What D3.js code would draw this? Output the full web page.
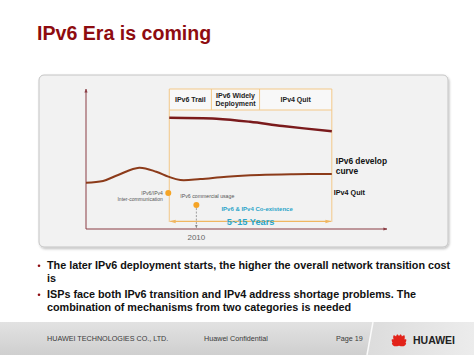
<!DOCTYPE html>
<html><head><meta charset="utf-8">
<script src="https://cdn.jsdelivr.net/npm/d3@7/dist/d3.min.js"></script>
<style>
html,body{margin:0;padding:0;background:#fff;}
svg{display:block;font-family:"Liberation Sans",Arial,sans-serif;}
</style></head>
<body>
<script>
// ---- data ----
const title = "IPv6 Era is coming";
const costYears  = [2007.3, 2012.0, 2015.35, 2018.6, 2023.5];
const costValues = [79.5, 78.8, 76.6, 73.6, 69.8];
const devYears   = [1999.0, 2000.7, 2002.2, 2004.3, 2006.0, 2007.2, 2008.4, 2010.4, 2013.0, 2016.3, 2019.7, 2023.5];
const devValues  = [33.1, 34.3, 38.6, 43.8, 40.9, 37.4, 35.0, 35.7, 37.4, 38.6, 39.1, 39.3];
const phaseNames = [["IPv6 Trail"], ["IPv6 Widely", "Deployment"], ["IPv4 Quit"]];
const phaseBounds = [2007.3, 2011.5, 2016.3, 2023.5];
const milestoneYears  = [2007.2, 2010.0];
const milestoneValues = [25.7, 17.1];
const milestoneLabels = [["IPv6/IPv4", "Inter-communication"], ["IPv6 commercial usage"]];
const tickYears  = [2010];
const tickLabels = ["2010"];
const curveLabels = [["IPv6 develop", "curve"], ["IPv4 Quit"]];
const coexistLabel = "IPv6 & IPv4 Co-existence";
const spanLabel = "5~15 Years";
const bullets = [
  ["The later IPv6 deployment starts, the higher the overall network transition cost", "is"],
  ["ISPs face both IPv6 transition and IPv4 address shortage problems.  The", "combination of mechanisms from two categories is needed"]
];
const footerTexts = ["HUAWEI TECHNOLOGIES CO., LTD.", "Huawei Confidential", "Page 19"];
const brand = "HUAWEI";

// ---- layout ----
const W = 474, H = 355;
const svg = d3.select("body").append("svg").attr("width", W).attr("height", H);
const defs = svg.append("defs");

const sh = defs.append("filter").attr("id","sh").attr("x","-5%").attr("y","-5%").attr("width","110%").attr("height","115%");
sh.append("feDropShadow").attr("dx",1).attr("dy",1.5).attr("stdDeviation",1.2).attr("flood-color","#000").attr("flood-opacity",0.25);

const gL = defs.append("linearGradient").attr("id","fl").attr("x1",0).attr("y1",0).attr("x2",0).attr("y2",1);
gL.append("stop").attr("offset",0).attr("stop-color","#e2e2e2");
gL.append("stop").attr("offset",1).attr("stop-color","#cfcfcf");
const gR = defs.append("linearGradient").attr("id","fr").attr("x1",0).attr("y1",0).attr("x2",1).attr("y2",0);
gR.append("stop").attr("offset",0).attr("stop-color","#dcdcdc");
gR.append("stop").attr("offset",1).attr("stop-color","#ececec");

// Title
svg.append("text").attr("x",37).attr("y",40).attr("fill","#8e0c10")
  .attr("font-size",19.6).attr("font-weight","bold").text(title);

// Panel
svg.append("rect").attr("x",39).attr("y",75).attr("width",409).attr("height",172)
  .attr("rx",5).attr("fill","#f2f2f2").attr("stroke","#c4c4c4").attr("stroke-width",1)
  .attr("filter","url(#sh)");

// scales
const x = d3.scaleLinear().domain([1999, 2029]).range([86, 387]);
const y = d3.scaleLinear().domain([0, 100]).range([229, 89]);

const axisCol = "#8a3c44";
// arrow markers
defs.append("marker").attr("id","ax").attr("viewBox","0 0 10 10").attr("refX",9).attr("refY",5)
  .attr("markerWidth",4).attr("markerHeight",4).attr("orient","auto")
  .append("path").attr("d","M0,1L10,5L0,9Z").attr("fill",axisCol);
defs.append("marker").attr("id","ar").attr("viewBox","0 0 10 10").attr("refX",9).attr("refY",5)
  .attr("markerWidth",5).attr("markerHeight",5).attr("orient","auto-start-reverse")
  .append("path").attr("d","M0,2L10,5L0,8Z").attr("fill","#f0b660");
defs.append("marker").attr("id","ad").attr("viewBox","0 0 10 10").attr("refX",9).attr("refY",5)
  .attr("markerWidth",4).attr("markerHeight",4).attr("orient","auto")
  .append("path").attr("d","M0,1L10,5L0,9Z").attr("fill","#888");

// Phase box
const boxCol = "#f3c888";
const boxTop = y(100), hdrBot = y(85), boxBot = y(5);
svg.append("rect").attr("x",x(phaseBounds[0])).attr("y",boxTop)
  .attr("width",x(phaseBounds[3])-x(phaseBounds[0])).attr("height",hdrBot-boxTop)
  .attr("fill","#f8f8f8");
[0,3].forEach(i=>{
  svg.append("line").attr("x1",x(phaseBounds[i])).attr("x2",x(phaseBounds[i]))
    .attr("y1",boxTop).attr("y2",boxBot).attr("stroke",boxCol).attr("stroke-width",1);
});
[1,2].forEach(i=>{
  svg.append("line").attr("x1",x(phaseBounds[i])).attr("x2",x(phaseBounds[i]))
    .attr("y1",boxTop).attr("y2",hdrBot).attr("stroke",boxCol).attr("stroke-width",1);
});
[boxTop, hdrBot].forEach(v=>{
  svg.append("line").attr("x1",x(phaseBounds[0])).attr("x2",x(phaseBounds[3]))
    .attr("y1",v).attr("y2",v).attr("stroke",boxCol).attr("stroke-width",1);
});
phaseNames.forEach((lines,i)=>{
  const cx = (x(phaseBounds[i])+x(phaseBounds[i+1]))/2;
  const cy = (boxTop+hdrBot)/2;
  const t = svg.append("text").attr("x",cx).attr("text-anchor","middle")
    .attr("font-size",7).attr("font-weight","bold").attr("fill","#222");
  lines.forEach((s,j)=>{
    t.append("tspan").attr("x",cx)
      .attr("y", cy + 2.5 + (j - (lines.length-1)/2)*8.5).text(s);
  });
});

// Axes
svg.append("line").attr("x1",x(1999)).attr("x2",x(1999)).attr("y1",y(0)).attr("y2",y(100))
  .attr("stroke",axisCol).attr("stroke-width",1).attr("marker-end","url(#ax)");
svg.append("line").attr("x1",x(1999)).attr("x2",x(2029)).attr("y1",y(0)).attr("y2",y(0))
  .attr("stroke",axisCol).attr("stroke-width",1).attr("marker-end","url(#ax)");

// Span arrow 5~15 years
svg.append("line").attr("x1",x(phaseBounds[0])+1).attr("x2",x(phaseBounds[3])-1)
  .attr("y1",y(5.4)).attr("y2",y(5.4)).attr("stroke","#f0b660").attr("stroke-width",1.2)
  .attr("marker-start","url(#ar)").attr("marker-end","url(#ar)");
const spanX = (x(phaseBounds[0])+x(phaseBounds[3]))/2;
svg.append("text").attr("x",spanX).attr("y",y(5.4)+3.3).attr("text-anchor","middle")
  .attr("font-size",9.2).attr("font-weight","bold").attr("fill","#2aa5c9").text(spanLabel);
svg.append("text").attr("x",x(2011.5)+10).attr("y",y(12.8)).attr("font-size",6)
  .attr("font-weight","bold").attr("fill","#2aa5c9").text(coexistLabel);

// Curves
const line = d3.line().x(d=>x(d[0])).y(d=>y(d[1])).curve(d3.curveCatmullRom.alpha(0.5));
svg.append("path").datum(costYears.map((v,i)=>[v,costValues[i]]))
  .attr("d",line).attr("fill","none").attr("stroke","#7a1a1c").attr("stroke-width",2.4);
svg.append("path").datum(devYears.map((v,i)=>[v,devValues[i]]))
  .attr("d",line).attr("fill","none").attr("stroke","#8c3b1a").attr("stroke-width",2);

// Milestones
svg.append("line").attr("x1",x(milestoneYears[1])).attr("x2",x(milestoneYears[1]))
  .attr("y1",y(milestoneValues[1])+3).attr("y2",y(0)-1)
  .attr("stroke","#888").attr("stroke-width",0.8).attr("stroke-dasharray","2,1.5")
  .attr("marker-end","url(#ad)");
milestoneYears.forEach((yr,i)=>{
  svg.append("circle").attr("cx",x(yr)).attr("cy",y(milestoneValues[i])).attr("r",3)
    .attr("fill","#f5a426");
});
{
  const t = svg.append("text").attr("text-anchor","end").attr("font-size",5).attr("fill","#555");
  milestoneLabels[0].forEach((s,j)=>{
    t.append("tspan").attr("x",x(milestoneYears[0])-5.5).attr("y",y(milestoneValues[0])+1.5+j*6.2).text(s);
  });
  svg.append("text").attr("x",x(milestoneYears[1])-16).attr("y",y(milestoneValues[1])-7)
    .attr("font-size",5.2).attr("fill","#555").text(milestoneLabels[1][0]);
}

// Tick label
tickYears.forEach((yr,i)=>{
  svg.append("text").attr("x",x(yr)).attr("y",y(0)+10.5).attr("text-anchor","middle")
    .attr("font-size",8).attr("fill","#666").text(tickLabels[i]);
});

// Curve labels
{
  const t = svg.append("text").attr("font-size",8.4).attr("font-weight","bold").attr("fill","#111");
  curveLabels[0].forEach((s,j)=>{
    t.append("tspan").attr("x",x(2023.5)+4).attr("y",y(46.5)+j*10).text(s);
  });
  svg.append("text").attr("x",x(2023.5)+2).attr("y",y(24.5)).attr("font-size",7.2)
    .attr("font-weight","bold").attr("fill","#111").text(curveLabels[1][0]);
}

// Bullets
const bulletY = [269, 298];
bullets.forEach((lines,i)=>{
  svg.append("circle").attr("cx",39).attr("cy",bulletY[i]-3.3).attr("r",1.3).attr("fill","#8e0c10");
  lines.forEach((s,j)=>{
    svg.append("text").attr("x",47).attr("y",bulletY[i]+j*13).attr("font-size",10.8)
      .attr("font-weight","bold").attr("fill","#111").text(s);
  });
});

// Footer
svg.append("rect").attr("x",0).attr("y",322).attr("width",W).attr("height",H-322).attr("fill","url(#fl)");
svg.append("path").attr("d","M373,322L367,355L474,355L474,322Z").attr("fill","url(#fr)");
svg.append("line").attr("x1",373).attr("y1",322).attr("x2",367).attr("y2",355)
  .attr("stroke","#fafafa").attr("stroke-width",1.5);
const fx = [47, 204, 336];
footerTexts.forEach((s,i)=>{
  svg.append("text").attr("x",fx[i]).attr("y",341).attr("font-size",7.2).attr("fill","#3a3a3a").text(s);
});
// logo petals
{
  const g = svg.append("g").attr("transform","translate(399,345.5)");
  const angles = [-72,-50,-28,-9,9,28,50,72];
  angles.forEach(a=>{
    const len = Math.abs(a) > 60 ? 7.5 : (Math.abs(a) > 40 ? 9.5 : 11.5);
    g.append("path")
      .attr("d",`M0,0 C${-2.8},${-len*0.35} ${-2.6},${-len*0.85} 0,${-len} C${2.6},${-len*0.85} ${2.8},${-len*0.35} 0,0Z`)
      .attr("transform",`rotate(${a})`).attr("fill","#e2231a");
  });
  svg.append("text").attr("x",413).attr("y",344).attr("font-size",10.5).attr("font-weight","bold")
    .attr("fill","#222").text(brand);
}
</script>
</body></html>
